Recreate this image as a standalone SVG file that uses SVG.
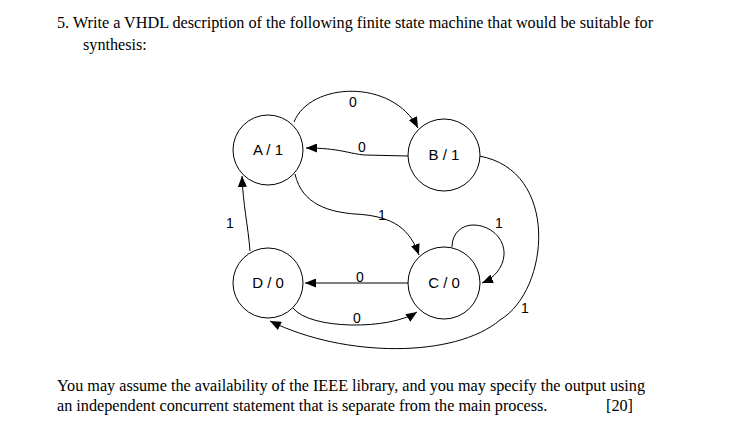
<svg xmlns="http://www.w3.org/2000/svg" width="729" height="433" viewBox="0 0 729 433">
<style>
.q{font-family:"Liberation Serif","Times New Roman",serif;font-size:16.2px;fill:#000}
.st{fill:#fff;stroke:#000;stroke-width:1}
.sl{font-family:"Liberation Sans",Arial,sans-serif;font-size:15px;fill:#000;text-anchor:middle}
.e{fill:none;stroke:#000;stroke-width:1}
.el{font-family:"Liberation Sans",Arial,sans-serif;font-size:14px;fill:#000;text-anchor:middle}
</style>
<defs>
<marker id="ah" viewBox="0 0 11 9" refX="11" refY="4.5" markerWidth="11" markerHeight="9" markerUnits="userSpaceOnUse" orient="auto">
<path d="M0,0 L11,4.5 L0,9 z" fill="#000"/>
</marker>
</defs>
<rect width="729" height="433" fill="#fff"/>
<text class="q" x="57" y="28">5. Write a VHDL description of the following finite state machine that would be suitable for</text>
<text class="q" x="83" y="50">synthesis:</text>
<g id="connectors">
<path class="e" d="M294,122 C310,82 392,78 418,128" marker-end="url(#ah)"/>
<text class="el" x="353" y="107">0</text>
<path class="e" d="M408,156 L365,155 C350,154 340,148 306,148" marker-end="url(#ah)"/>
<text class="el" x="362" y="152">0</text>
<path class="e" d="M295,174 C302,205 330,212 355,214 C395,216 410,230 419,255" marker-end="url(#ah)"/>
<text class="el" x="382" y="220">1</text>
<path class="e" d="M452,247 C452,233 462,225 473,225 C490,225 505,238 504,255 C503,268 494,278 482,283" marker-end="url(#ah)"/>
<text class="el" x="499" y="228">1</text>
<path class="e" d="M408,283 L305,283" marker-end="url(#ah)"/>
<text class="el" x="360" y="282">0</text>
<path class="e" d="M293,308 C310,330 390,330 417,312" marker-end="url(#ah)"/>
<text class="el" x="357" y="323">0</text>
<path class="e" d="M479,156 C560,170 550,290 500,320 C455,358 345,358 270,321" marker-end="url(#ah)"/>
<text class="el" x="525" y="313">1</text>
<path class="e" d="M250,251 C248,225 243,205 242,176" marker-end="url(#ah)"/>
<text class="el" x="230" y="228">1</text>
</g>
<g id="A"><circle class="st" cx="268" cy="150" r="35"/><text class="sl" x="268" y="155">A / 1</text></g>
<g id="B"><circle class="st" cx="444" cy="155" r="36"/><text class="sl" x="444" y="160">B / 1</text></g>
<g id="C"><circle class="st" cx="444" cy="283" r="36"/><text class="sl" x="444" y="288">C / 0</text></g>
<g id="D"><circle class="st" cx="268" cy="283" r="35"/><text class="sl" x="268" y="288">D / 0</text></g>
<text class="q" x="57" y="391">You may assume the availability of the IEEE library, and you may specify the output using</text>
<text class="q" x="57" y="411">an independent concurrent statement that is separate from the main process.</text>
<text class="q" x="606" y="411">[20]</text>
</svg>
